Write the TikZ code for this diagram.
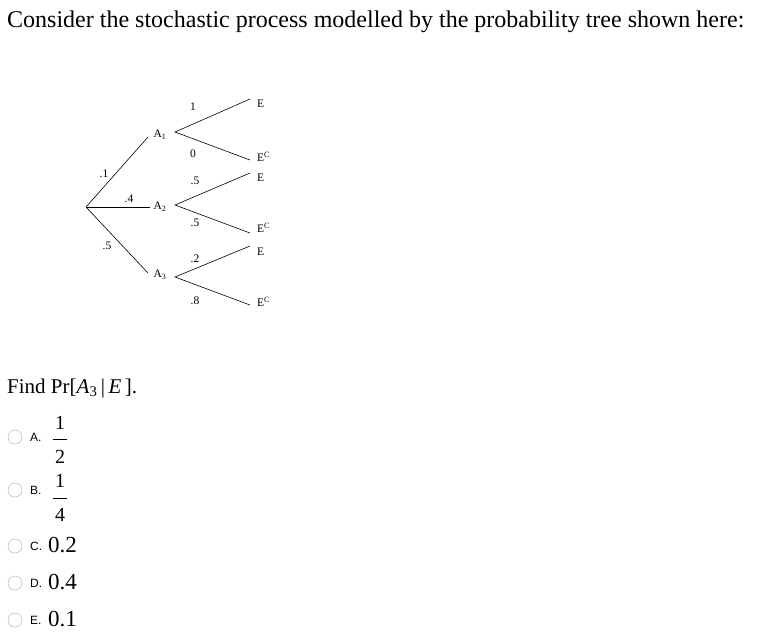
\documentclass[tikz,border=0pt]{standalone}
\usepackage{fontspec}
\setmainfont{Liberation Serif}
\newfontfamily\sansf{Liberation Sans}
\begin{document}
\begin{tikzpicture}[x=1pt,y=-1pt,
  lab/.style={font=\fontsize{11.5}{12}\selectfont,inner sep=0pt},
  br/.style={line width=0.6pt},
  opt/.style={draw=gray!70,circle,minimum size=14pt,inner sep=0pt},
  let/.style={font=\sansf\fontsize{12}{13}\selectfont,inner sep=0pt,anchor=west},
  val/.style={font=\fontsize{23}{25}\selectfont,inner sep=0pt,anchor=west},
  frc/.style={inner sep=0pt,font=\fontsize{20}{20}\selectfont}]
\useasboundingbox (0,0) rectangle (762,641);
\node[anchor=west,inner sep=0pt,font=\fontsize{24}{26}\selectfont] (t) at (7,22) {Consider the stochastic process modelled by the probability tree shown here:};
\coordinate (r) at (86,207);
\node[lab] (a1) at (160,135) {A\textsubscript{1}};
\node[lab] (a2) at (160,207) {A\textsubscript{2}};
\node[lab] (a3) at (160,275) {A\textsubscript{3}};
\draw[br] (r) -- (148,137);
\draw[br] (r) -- (150,207);
\draw[br] (r) -- (148,273);
\coordinate (s1) at (175,132); \coordinate (s2) at (175,205); \coordinate (s3) at (175,277);
\coordinate (e1) at (250,99); \coordinate (f1) at (250,160);
\coordinate (e2) at (250,173); \coordinate (f2) at (250,233);
\coordinate (e3) at (250,246); \coordinate (f3) at (250,305);
\draw[br] (e1) -- (s1) -- (f1);
\draw[br] (e2) -- (s2) -- (f2);
\draw[br] (e3) -- (s3) -- (f3);
\node[lab,anchor=west] (E1) at (257,104) {E};
\node[lab,anchor=west] (F1) at (257,157) {E\textsuperscript{C}};
\node[lab,anchor=west] (E2) at (257,178) {E};
\node[lab,anchor=west] (F2) at (257,228) {E\textsuperscript{C}};
\node[lab,anchor=west] (E3) at (257,252) {E};
\node[lab,anchor=west] (F3) at (257,302) {E\textsuperscript{C}};
\node[lab] (p1) at (193,107) {1};
\node[lab] (p2) at (193,154) {0};
\node[lab] (p3) at (195,181) {.5};
\node[lab] (p4) at (195,223) {.5};
\node[lab] (p5) at (195,259) {.2};
\node[lab] (p6) at (195,301) {.8};
\node[lab] (q1) at (104,174) {.1};
\node[lab] (q2) at (129,199) {.4};
\node[lab] (q3) at (107,246) {.5};
\node[anchor=west,inner sep=0pt,font=\fontsize{21}{23}\selectfont] (f) at (7,388) {Find Pr[\textit{A}\textsubscript{3}\,|\,\textit{E}\,].};
\node[opt] (o1) at (15,437) {}; \node[let] (l1) at (30,437) {A.};
\node[frc] (n1) at (60,423) {1}; \node[frc] (d1) at (60,457) {2};
\draw[line width=0.9pt] (53,439) -- (67,439);
\node[opt] (o2) at (15,490) {}; \node[let] (l2) at (30,490) {B.};
\node[frc] (n2) at (60,481) {1}; \node[frc] (d2) at (60,515) {4};
\draw[line width=0.9pt] (53,498) -- (67,498);
\node[opt] (o3) at (15,546) {}; \node[let] (l3) at (30,546) {C.}; \node[val] (v3) at (48,545) {0.2};
\node[opt] (o4) at (15,583) {}; \node[let] (l4) at (30,583) {D.}; \node[val] (v4) at (48,582) {0.4};
\node[opt] (o5) at (15,620) {}; \node[let] (l5) at (30,620) {E.}; \node[val] (v5) at (48,619) {0.1};
\end{tikzpicture}
\end{document}
